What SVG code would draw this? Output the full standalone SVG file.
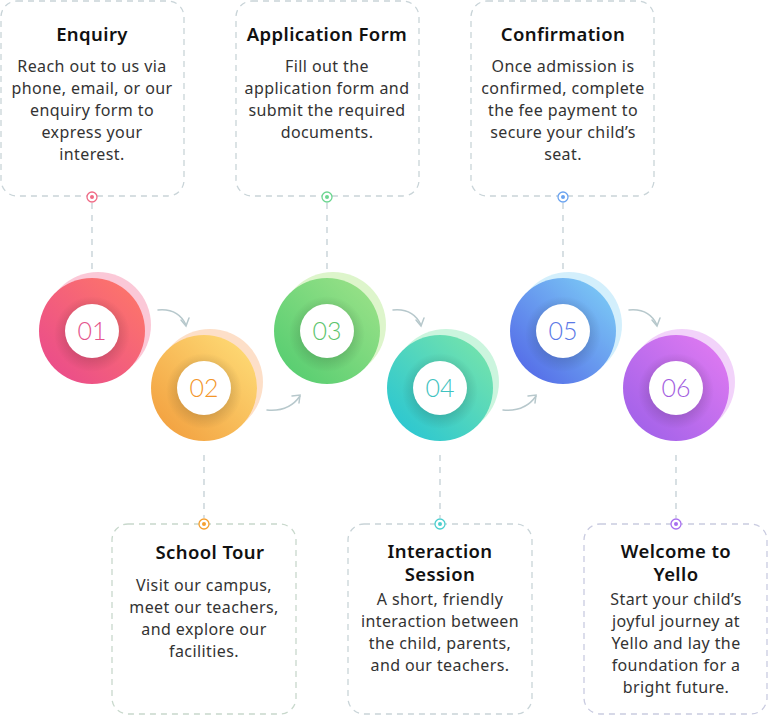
<svg xmlns="http://www.w3.org/2000/svg" width="768" height="716" viewBox="0 0 768 716">
<style>
.box{fill:#fff;stroke:#c9d4d8;stroke-width:1.3;stroke-dasharray:6 5}
.title{font-family:"Noto Sans","Liberation Sans",sans-serif;font-weight:600;font-size:18.5px;letter-spacing:0.4px;fill:#111;text-anchor:middle}
.body{font-family:"Noto Sans","Liberation Sans",sans-serif;font-size:16px;letter-spacing:0.4px;fill:#333;text-anchor:middle}
.num{font-family:Lato,"Noto Sans",sans-serif;font-weight:300;font-size:25px;text-anchor:middle}
.vline{stroke:#c3cfd4;stroke-width:1.3;stroke-dasharray:6 6;fill:none}
.arrow{stroke:#b7c8cc;stroke-width:1.5;fill:none;stroke-linecap:round}
.inner{fill:#fff}
</style>
<defs>
<linearGradient id="g1" x1="1" y1="0" x2="0" y2="1"><stop offset="0" stop-color="#ff7a66"/><stop offset="1" stop-color="#e8478f"/></linearGradient>
<linearGradient id="g2" x1="1" y1="0" x2="0" y2="1"><stop offset="0" stop-color="#ffe07a"/><stop offset="1" stop-color="#f19a3a"/></linearGradient>
<linearGradient id="g3" x1="1" y1="0" x2="0" y2="1"><stop offset="0" stop-color="#9fe38a"/><stop offset="1" stop-color="#4fcb6e"/></linearGradient>
<linearGradient id="g4" x1="1" y1="0" x2="0" y2="1"><stop offset="0" stop-color="#7ce6a8"/><stop offset="1" stop-color="#22c3d6"/></linearGradient>
<linearGradient id="g5" x1="1" y1="0" x2="0" y2="1"><stop offset="0" stop-color="#7fd3f7"/><stop offset="1" stop-color="#5060e6"/></linearGradient>
<linearGradient id="g6" x1="1" y1="0" x2="0" y2="1"><stop offset="0" stop-color="#e57cf2"/><stop offset="1" stop-color="#9a5fe8"/></linearGradient>
<radialGradient id="shade" cx="0.5" cy="0.5" r="0.5"><stop offset="0.5" stop-color="#000" stop-opacity="0.18"/><stop offset="1" stop-color="#000" stop-opacity="0"/></radialGradient>
</defs>

<g id="connectors">
<path class="vline" d="M92,203 V275"/>
<path class="vline" d="M327,203 V275"/>
<path class="vline" d="M563,203 V275"/>
<path class="vline" d="M204,455 V518"/>
<path class="vline" d="M440,455 V518"/>
<path class="vline" d="M676,455 V518"/>
<path class="arrow" d="M158,310 Q178,308 186,325"/><path class="arrow" d="M181,320 L186,326 L189,318"/>
<path class="arrow" d="M267,410 Q289,412 300,396"/><path class="arrow" d="M292,396 L300,395 L299,403"/>
<path class="arrow" d="M393,310 Q413,308 421,325"/><path class="arrow" d="M416,320 L421,326 L424,318"/>
<path class="arrow" d="M503,410 Q525,412 536,396"/><path class="arrow" d="M528,396 L536,395 L535,403"/>
<path class="arrow" d="M629,310 Q649,308 657,325"/><path class="arrow" d="M652,320 L657,326 L660,318"/>
</g>

<g id="step1">
<rect class="box" x="1" y="1" width="183" height="195" rx="16"/>
<text class="title" x="92" y="41">Enquiry</text>
<text class="body" x="92" y="72">Reach out to us via</text>
<text class="body" x="92" y="94">phone, email, or our</text>
<text class="body" x="92" y="116">enquiry form to</text>
<text class="body" x="92" y="138">express your</text>
<text class="body" x="92" y="160">interest.</text>
<circle cx="92" cy="197" r="5" fill="#fff" stroke="#f06a85" stroke-width="1.3"/><circle cx="92" cy="197" r="2" fill="#f06a85"/>
<circle cx="98" cy="325" r="53" fill="#f9a3bd" opacity="0.6"/>
<circle cx="92" cy="331" r="53" fill="url(#g1)"/>
<circle cx="92" cy="334" r="38" fill="url(#shade)"/>
<circle class="inner" cx="92" cy="331" r="27"/>
<text class="num" x="92" y="340" fill="#e4548c">01</text>
</g>

<g id="step2">
<rect class="box" x="112" y="524" width="184" height="190" rx="16" style="stroke:#c8d8cc"/>
<text class="title" x="210" y="559">School Tour</text>
<text class="body" x="204" y="591">Visit our campus,</text>
<text class="body" x="204" y="613">meet our teachers,</text>
<text class="body" x="204" y="635">and explore our</text>
<text class="body" x="204" y="657">facilities.</text>
<circle cx="204" cy="524" r="5" fill="#fff" stroke="#f5a030" stroke-width="1.3"/><circle cx="204" cy="524" r="2" fill="#f5a030"/>
<circle cx="210" cy="382" r="53" fill="#fcc9a4" opacity="0.6"/>
<circle cx="204" cy="388" r="53" fill="url(#g2)"/>
<circle cx="204" cy="391" r="38" fill="url(#shade)"/>
<circle class="inner" cx="204" cy="388" r="27"/>
<text class="num" x="204" y="397" fill="#f3962a">02</text>
</g>

<g id="step3">
<rect class="box" x="236" y="1" width="183" height="195" rx="16"/>
<text class="title" x="327" y="41">Application Form</text>
<text class="body" x="327" y="72">Fill out the</text>
<text class="body" x="327" y="94">application form and</text>
<text class="body" x="327" y="116">submit the required</text>
<text class="body" x="327" y="138">documents.</text>
<circle cx="327" cy="197" r="5" fill="#fff" stroke="#6cd690" stroke-width="1.3"/><circle cx="327" cy="197" r="2" fill="#6cd690"/>
<circle cx="333" cy="325" r="53" fill="#c6eea8" opacity="0.6"/>
<circle cx="327" cy="331" r="53" fill="url(#g3)"/>
<circle cx="327" cy="334" r="38" fill="url(#shade)"/>
<circle class="inner" cx="327" cy="331" r="27"/>
<text class="num" x="327" y="340" fill="#5cc46c">03</text>
</g>

<g id="step4">
<rect class="box" x="348" y="524" width="184" height="190" rx="16"/>
<text class="title" x="440" y="558">Interaction</text>
<text class="title" x="440" y="581">Session</text>
<text class="body" x="440" y="605">A short, friendly</text>
<text class="body" x="440" y="627">interaction between</text>
<text class="body" x="440" y="649">the child, parents,</text>
<text class="body" x="440" y="671">and our teachers.</text>
<circle cx="440" cy="524" r="5" fill="#fff" stroke="#4ccfcf" stroke-width="1.3"/><circle cx="440" cy="524" r="2" fill="#4ccfcf"/>
<circle cx="446" cy="382" r="53" fill="#a8eec8" opacity="0.6"/>
<circle cx="440" cy="388" r="53" fill="url(#g4)"/>
<circle cx="440" cy="391" r="38" fill="url(#shade)"/>
<circle class="inner" cx="440" cy="388" r="27"/>
<text class="num" x="440" y="397" fill="#3fc3c0">04</text>
</g>

<g id="step5">
<rect class="box" x="471" y="1" width="183" height="195" rx="16"/>
<text class="title" x="563" y="41">Confirmation</text>
<text class="body" x="563" y="72">Once admission is</text>
<text class="body" x="563" y="94">confirmed, complete</text>
<text class="body" x="563" y="116">the fee payment to</text>
<text class="body" x="563" y="138">secure your child’s</text>
<text class="body" x="563" y="160">seat.</text>
<circle cx="563" cy="197" r="5" fill="#fff" stroke="#6aa3f0" stroke-width="1.3"/><circle cx="563" cy="197" r="2" fill="#6aa3f0"/>
<circle cx="569" cy="325" r="53" fill="#b6e4fa" opacity="0.6"/>
<circle cx="563" cy="331" r="53" fill="url(#g5)"/>
<circle cx="563" cy="334" r="38" fill="url(#shade)"/>
<circle class="inner" cx="563" cy="331" r="27"/>
<text class="num" x="563" y="340" fill="#5a78e6">05</text>
</g>

<g id="step6">
<rect class="box" x="584" y="524" width="183" height="190" rx="16" style="stroke:#c9cbe0"/>
<text class="title" x="676" y="558">Welcome to</text>
<text class="title" x="676" y="581">Yello</text>
<text class="body" x="676" y="605">Start your child’s</text>
<text class="body" x="676" y="627">joyful journey at</text>
<text class="body" x="676" y="649">Yello and lay the</text>
<text class="body" x="676" y="671">foundation for a</text>
<text class="body" x="676" y="693">bright future.</text>
<circle cx="676" cy="524" r="5" fill="#fff" stroke="#a86ff0" stroke-width="1.3"/><circle cx="676" cy="524" r="2" fill="#a86ff0"/>
<circle cx="682" cy="382" r="53" fill="#eab6f6" opacity="0.6"/>
<circle cx="676" cy="388" r="53" fill="url(#g6)"/>
<circle cx="676" cy="391" r="38" fill="url(#shade)"/>
<circle class="inner" cx="676" cy="388" r="27"/>
<text class="num" x="676" y="397" fill="#a35ddf">06</text>
</g>
</svg>
